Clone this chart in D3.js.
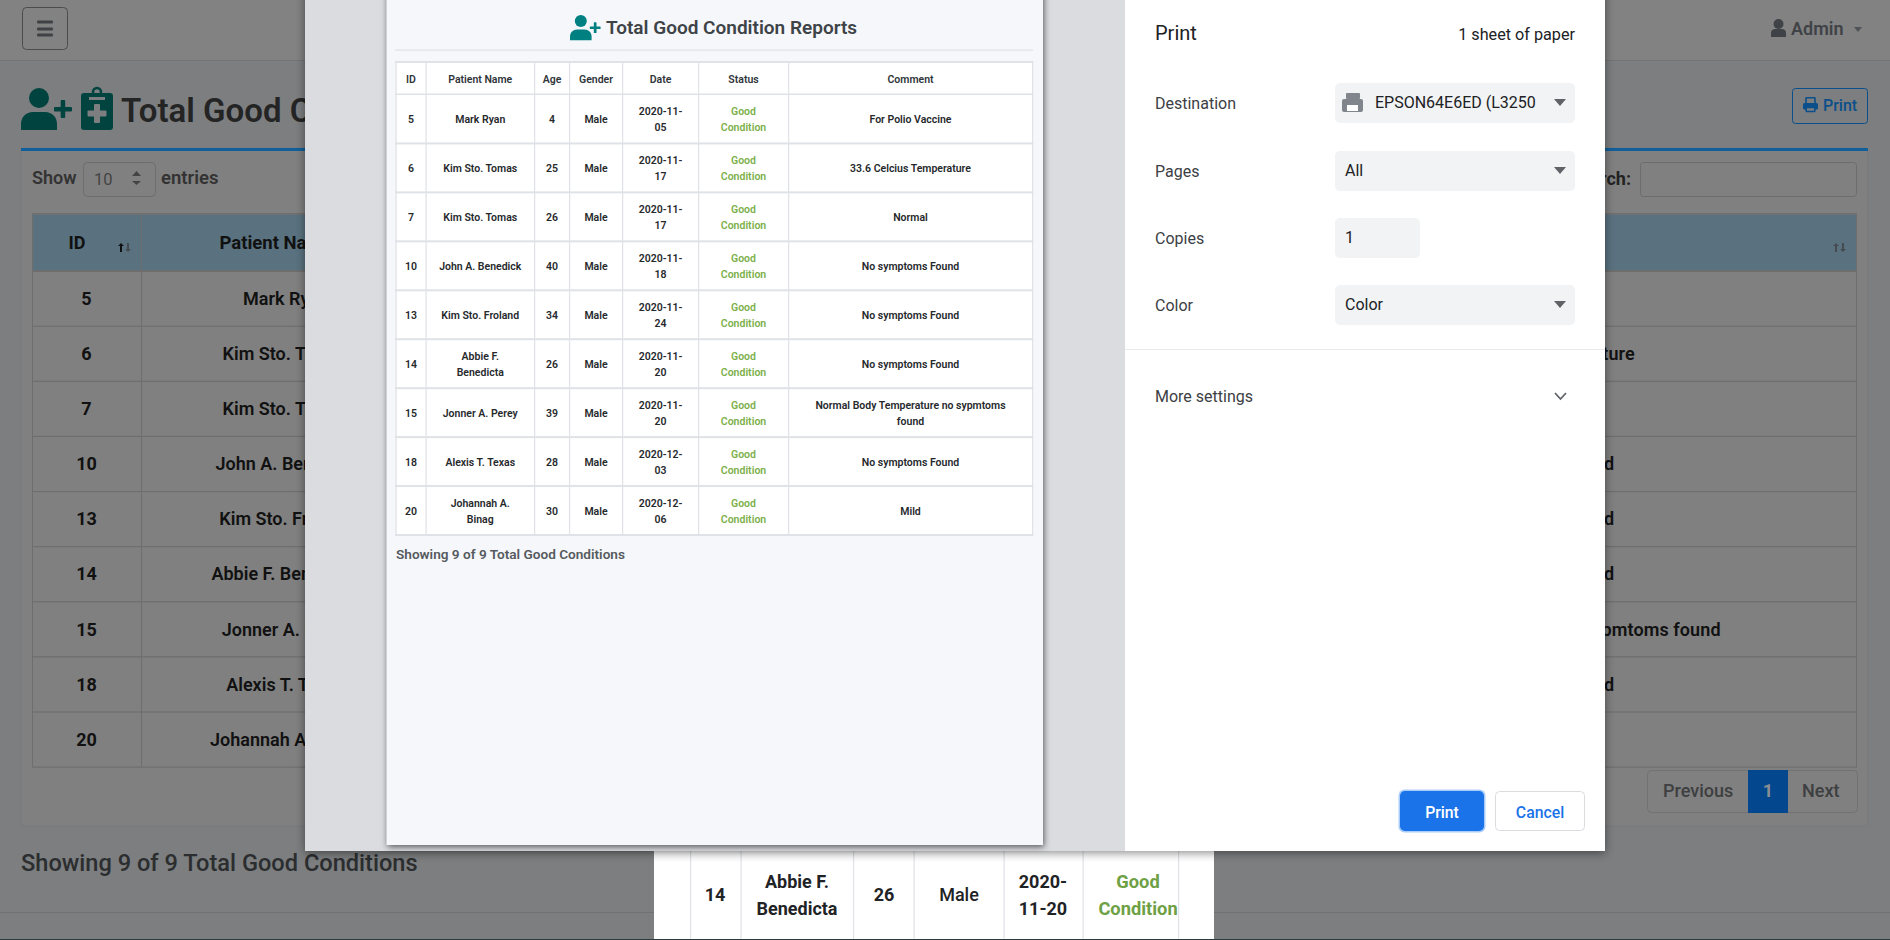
<!DOCTYPE html>
<html>
<head>
<meta charset="utf-8">
<title>Total Good Condition Reports</title>
<script src="https://cdn.jsdelivr.net/npm/d3@7"></script>
<style>
  html, body { margin: 0; padding: 0; background: #7c7e80; overflow: hidden; }
  svg { display: block; }
  text { font-family: Roboto, sans-serif; }
</style>
</head>
<body>
<svg id="page" width="1890" height="940"></svg>
<script>
// table contents, "\n" marks where the cell wraps in the print preview
var headers = ["ID", "Patient Name", "Age", "Gender", "Date", "Status", "Comment"];
var ids = [5, 6, 7, 10, 13, 14, 15, 18, 20];
var names = ["Mark Ryan", "Kim Sto. Tomas", "Kim Sto. Tomas", "John A. Benedick", "Kim Sto. Froland",
    "Abbie F.\nBenedicta", "Jonner A. Perey", "Alexis T. Texas", "Johannah A.\nBinag"];
var ages = [4, 25, 26, 40, 34, 26, 39, 28, 30];
var genders = ["Male", "Male", "Male", "Male", "Male", "Male", "Male", "Male", "Male"];
var dates = ["2020-11-\n05", "2020-11-\n17", "2020-11-\n17", "2020-11-\n18", "2020-11-\n24",
    "2020-11-\n20", "2020-11-\n20", "2020-12-\n03", "2020-12-\n06"];
var statuses = ["Good\nCondition", "Good\nCondition", "Good\nCondition", "Good\nCondition", "Good\nCondition",
    "Good\nCondition", "Good\nCondition", "Good\nCondition", "Good\nCondition"];
var comments = ["For Polio Vaccine", "33.6 Celcius Temperature", "Normal", "No symptoms Found", "No symptoms Found",
    "No symptoms Found", "Normal Body Temperature no sypmtoms\nfound", "No symptoms Found", "Mild"];
var pageTitle = "Total Good Condition Reports";
var pageHeading = "Total Good C"; // the dialog cuts the rest off
var footerText = "Showing 9 of 9 Total Good Conditions";
var printLabels = ["Destination", "Pages", "Copies", "Color"];
var printValues = ["EPSON64E6ED (L3250", "All", "1", "Color"];

var svg = d3.select("#page");

function rect(g, x, y, w, h, fill, rx, stroke) {
    return g.append("rect").attr("x", x).attr("y", y).attr("width", w).attr("height", h)
        .attr("fill", fill).attr("rx", rx || 0).attr("stroke", stroke || "none");
}
function label(g, x, y, str, size, weight, color, anchor) {
    return g.append("text").attr("x", x).attr("y", y).attr("dy", "0.35em").text(str)
        .attr("font-size", size).attr("font-weight", weight).attr("fill", color)
        .attr("text-anchor", anchor || "start");
}
// cell text, one or two lines centred on y
function cell(g, x, y, str, size, weight, color, gap) {
    var lines = str.split("\n");
    lines.forEach(function(line, i) {
        label(g, x, y + (i - (lines.length - 1) / 2) * gap, line, size, weight, color, "middle");
    });
}
function userPlus(g, x, y, s, color) {
    var u = g.append("g").attr("transform", "translate(" + x + "," + y + ") scale(" + s + ")").attr("fill", color);
    u.append("circle").attr("cx", 18).attr("cy", 10).attr("r", 10);
    u.append("path").attr("d", "M0 42V36C0 29 5 24 12 24H24C31 24 36 29 36 36V42Z");
    u.append("rect").attr("x", 33).attr("y", 19).attr("width", 18).attr("height", 4.5).attr("rx", 1);
    u.append("rect").attr("x", 39.7).attr("y", 12).attr("width", 4.5).attr("height", 18).attr("rx", 1);
}

// ---- page behind the dialog ----
var bg = svg.append("g");
rect(bg, 0, 0, 1890, 60, "#828282");
rect(bg, 0, 60, 1890, 1, "#727476");
rect(bg, 0, 912, 1890, 1, "#6f7173");
rect(bg, 0, 939, 1890, 1, "#2c3b3d");

rect(bg, 22.5, 7.5, 45, 42, "none", 4, "#4a4c4e");
[22, 29, 35].forEach(function(y) { rect(bg, 37, y - 1.5, 16, 3, "#3f4144", 1); });

// admin menu
var adm = bg.append("g").attr("fill", "#3f4347");
adm.append("circle").attr("cx", 1778.5).attr("cy", 24).attr("r", 5);
adm.append("path").attr("d", "M1771 37V33C1771 30 1773 29 1775 29H1782C1784 29 1786 30 1786 33V37Z");
label(bg, 1791, 29, "Admin", 18, 600, "#3f4347");
bg.append("path").attr("d", "M1854 27H1862L1858 32Z").attr("fill", "#505357");

// heading
userPlus(bg, 21, 88, 1.0, "#00433f");
rect(bg, 81, 93, 32, 37, "#00433f", 3);
bg.append("circle").attr("cx", 97).attr("cy", 92).attr("r", 4).attr("fill", "none").attr("stroke", "#00433f").attr("stroke-width", 2.5);
rect(bg, 89, 97, 16, 3, "#7c7e80");
rect(bg, 94, 104, 6, 19, "#7c7e80", 1);
rect(bg, 87.5, 110.5, 19, 6, "#7c7e80", 1);
label(bg, 121, 110, pageHeading, 33, 600, "#242424");

// print button
rect(bg, 1792.5, 88.5, 75, 35, "none", 3, "#0b4f8a");
rect(bg, 1806, 97.8, 9, 6, "none", 0.5, "#0b4f8a").attr("stroke-width", 1.6);
rect(bg, 1803, 103, 15, 6.5, "#0b4f8a", 1.5);
rect(bg, 1806.2, 107.5, 8.6, 4, "#7c7e80", 0.5, "#0b4f8a").attr("stroke-width", 1.6);
label(bg, 1823, 105, "Print", 16, 500, "#0b4f8a");

// card with the table
rect(bg, 21, 148, 1847, 678, "#808080", 3, "#76787a");
rect(bg, 21, 148, 1847, 3, "#11609c");

label(bg, 32, 178, "Show", 18, 600, "#333");
rect(bg, 83.5, 162.5, 72, 34, "none", 4, "#6b6d6f");
label(bg, 94, 179, "10", 16.5, 400, "#444");
bg.append("path").attr("d", "M132 176L136.5 171L141 176ZM132 181H141L136.5 185Z").attr("fill", "#444");
label(bg, 161, 178, "entries", 18.5, 600, "#333");
label(bg, 1631, 179, "Search:", 18, 700, "#222", "end");
rect(bg, 1640.5, 162.5, 216, 34, "none", 3, "#6b6d6f");

// main table, rows laid out by a band scale
var mainRows = d3.scaleBand().domain(ids).range([271, 767]);
rect(bg, 32, 214, 1825, 57, "#5a7280");
rect(bg, 32, 213, 1825, 2, "#6e7072");
rect(bg, 141, 214, 1, 553, "#6e6e6e");
rect(bg, 32, 214, 1, 553, "#6e6e6e");
rect(bg, 1856, 214, 1, 553, "#6e6e6e");
rect(bg, 32, 270, 1825, 2, "#6e6e6e");
label(bg, 77, 243, headers[0], 18, 700, "#111", "middle");
label(bg, 276, 243, headers[1], 18.5, 700, "#111", "middle");
[118, 1833].forEach(function(x, i) {
    bg.append("path").attr("d", "M" + x + " 246l3-3l3 3h-2v6h-2v-6Z").attr("fill", i ? "#454b50" : "#111");
    bg.append("path").attr("d", "M" + (x + 7) + " 249l3 3l3-3h-2v-6h-2v6Z").attr("fill", "#454b50");
});
var mainRow = bg.selectAll("g.mainrow").data(ids).enter().append("g").attr("class", "mainrow");
mainRow.each(function(id, i) {
    var g = d3.select(this), y0 = mainRows(id), mid = y0 + mainRows.bandwidth() / 2;
    rect(g, 32, y0 + mainRows.bandwidth() - 0.5, 1825, 1.2, "#6e6e6e");
    label(g, 86.5, mid, id, 18, 700, "#111", "middle");
    label(g, 286, mid, names[i].replace("\n", " "), 18, 600, "#111", "middle");
    label(g, 1530, mid, comments[i].replace("\n", " "), 18, 600, "#111", "middle").attr("letter-spacing", 0.1);
});

// pagination
rect(bg, 1647.5, 770.5, 210, 42, "none", 4, "#707274");
rect(bg, 1748, 770, 40, 43, "#03478f");
label(bg, 1663, 791, "Previous", 18, 500, "#3d3f41");
label(bg, 1768, 791, "1", 18, 700, "#8a8f94", "middle");
label(bg, 1802, 791, "Next", 18, 500, "#3d3f41");

label(bg, 21, 863, footerText, 23.6, 500, "#2b2d2f");

// ---- printed sheet sticking out under the dialog ----
var sheet = svg.append("g");
rect(sheet, 654, 851, 560, 88, "#ffffff");
[690, 740.5, 853, 913.5, 1003.5, 1082.5, 1178].forEach(function(x) { rect(sheet, x, 851, 1.2, 88, "#dfe2e6"); });
var s = ids.indexOf(14);
// the sheet is narrower than the preview, so the date wraps after the year here
var sheetDate = dates[s].replace("\n", "").replace("-", "-\n");
[[715, ids[s]], [797, names[s]], [884, ages[s]], [959, genders[s]], [1043, sheetDate]].forEach(function(d, i) {
    cell(sheet, d[0], 895, String(d[1]), 18, i === 3 ? 500 : 700, "#1f2326", 27);
});
cell(sheet, 1138, 895, statuses[s], 18.3, 700, "#6ea044", 27);

// ---- print dialog ----
var dlg = svg.append("g");
rect(dlg, 305, -10, 1300, 861, "#dbdce0").style("filter", "drop-shadow(0 2px 5px rgba(0,0,0,.45))");
rect(dlg, 1125, 0, 480, 851, "#ffffff");

// preview sheet
rect(dlg, 386.5, -10, 656.5, 855, "#f5f7fb").style("filter", "drop-shadow(1px 2px 3px rgba(0,0,0,.6))");
userPlus(dlg, 570, 15, 0.6, "#008080");
label(dlg, 606, 27.5, pageTitle, 19, 600, "#3e4347");
rect(dlg, 395, 49.5, 638, 1.2, "#dfe2e6");

// preview table edges, one per column boundary
var colEdges = [396, 426, 534.5, 569.5, 622.5, 698.5, 788.5, 1032.5];
var colCenters = d3.pairs(colEdges).map(function(p) { return (p[0] + p[1]) / 2; });
var rowScale = d3.scaleBand().domain(ids).range([94.5, 535]);
rect(dlg, 396, 62, 636.5, 473, "#ffffff");
headers.forEach(function(h, i) { label(dlg, colCenters[i], 79, h, 10.5, 600, "#30353a", "middle"); });
rect(dlg, 395, 61, 638.5, 2, "#dfe2e6");
rect(dlg, 395, 93.5, 638.5, 1.5, "#dfe2e6");
colEdges.forEach(function(x) { rect(dlg, x - 0.5, 62, 1.2, 473, "#dfe2e6"); });

var row = dlg.selectAll("g.row").data(ids).enter().append("g").attr("class", "row");
row.each(function(id, i) {
    var g = d3.select(this), y0 = rowScale(id), mid = y0 + rowScale.bandwidth() / 2 + 0.7;
    rect(g, 395, y0 + rowScale.bandwidth() - 1, 638.5, 2, "#dfe2e6");
    cell(g, colCenters[0], mid, String(id), 10.5, 600, "#26292c", 16);
    cell(g, colCenters[1], mid, names[i], 10.5, 600, "#26292c", 16);
    cell(g, colCenters[2], mid, String(ages[i]), 10.5, 600, "#26292c", 16);
    cell(g, colCenters[3], mid, genders[i], 10.5, 600, "#26292c", 16);
    cell(g, colCenters[4], mid, dates[i], 10.5, 600, "#26292c", 16);
    cell(g, colCenters[5], mid, statuses[i], 10.5, 600, "#7cb04a", 16);
    cell(g, colCenters[6], mid, comments[i], 10.5, 600, "#26292c", 16);
});
label(dlg, 396, 554, footerText, 13.6, 600, "#565a5e");

// settings panel
label(dlg, 1155, 33, "Print", 20, 400, "#202124");
label(dlg, 1575, 34, "1 sheet of paper", 16.2, 400, "#202124", "end");
var rowYs = [103, 171, 238, 305];
printLabels.forEach(function(t, i) {
    label(dlg, 1155, rowYs[i], t, 16, 400, "#3c4043");
    rect(dlg, 1335, rowYs[i] - 20, i === 2 ? 85 : 240, 40, "#f1f3f4", 5);
    label(dlg, i === 0 ? 1375 : 1345, rowYs[i] - 1, printValues[i], 16, 400, "#202124");
    if (i !== 2) dlg.append("path").attr("d", "M1554 " + (rowYs[i] - 4) + "H1566L1560 " + (rowYs[i] + 3) + "Z").attr("fill", "#5f6368");
});
// printer glyph in the destination box
rect(dlg, 1346, 93, 14, 6, "#80868b", 1);
rect(dlg, 1342, 99, 21, 13, "#80868b", 2);
rect(dlg, 1347, 105, 11, 6, "#ffffff");
rect(dlg, 1125, 349, 480, 1, "#e8eaed");
label(dlg, 1155, 396, "More settings", 16, 400, "#3c4043");
dlg.append("path").attr("d", "M1555 393L1560.5 399L1566 393").attr("fill", "none").attr("stroke", "#5f6368").attr("stroke-width", 1.8);

// dialog buttons
rect(dlg, 1398.5, 789.5, 87, 43, "#a9cdfb", 6);
rect(dlg, 1400, 791, 84, 40, "#1a73e8", 5);
label(dlg, 1442, 812, "Print", 15.8, 500, "#ffffff", "middle");
rect(dlg, 1495.5, 791.5, 89, 39, "#ffffff", 4, "#dadce0");
label(dlg, 1540, 812, "Cancel", 15.8, 500, "#1a73e8", "middle");
</script>
</body>
</html>
